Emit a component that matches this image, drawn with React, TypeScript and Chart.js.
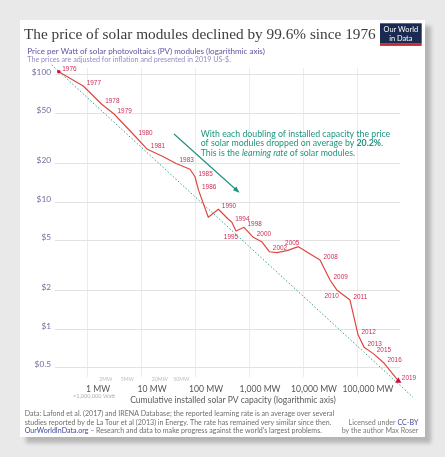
import React, { useEffect, useRef } from "react";
import { Chart, registerables } from "chart.js";

Chart.register(...registerables);

// ---- Data ----
const years = [1976, 1977, 1978, 1979, 1980, 1981, 1982, 1983, 1984, 1985, 1986, 1988, 1990, 1992, 1994, 1995, 1998, 2000, 2001, 2002, 2003, 2004, 2005, 2008, 2009, 2010, 2011, 2012, 2013, 2015, 2016, 2019];
const capacityMW = [0.30, 0.85, 1.87, 3.16, 7.7, 13.1, 25.9, 44.5, 80.8, 99.8, 116, 176, 270, 414, 478, 575, 808, 1200, 1718, 2376, 3300, 5054, 8185, 20650, 31620, 42100, 74130, 104500, 135000, 200000, 316000, 582000];
const pricePerWatt = [106, 81.9, 58.8, 49.3, 33.1, 26.0, 22.7, 20.1, 18.1, 15.8, 12.4, 7.58, 8.77, 7.31, 6.96, 5.91, 6.32, 5.27, 4.87, 4.06, 3.99, 4.14, 4.45, 3.49, 2.43, 2.03, 1.69, 0.90, 0.72, 0.64, 0.54, 0.39];
const labeledYears = [1976, 1977, 1978, 1979, 1980, 1981, 1983, 1985, 1986, 1990, 1994, 1995, 1998, 2000, 2002, 2005, 2008, 2009, 2010, 2011, 2012, 2013, 2015, 2016, 2019];

const trendCapacityMW = [0.222, 1090000];
const trendPrice = [120, 0.29];

const yTickValues = [0.5, 1, 2, 5, 10, 20, 50, 100];
const yTickLabels = ["$0.5", "$1", "$2", "$5", "$10", "$20", "$50", "$100"];
const xTickValues = [1, 10, 100, 1000, 10000, 100000];
const xTickLabels = ["1 MW", "10 MW", "100 MW", "1,000 MW", "10,000 MW", "100,000 MW"];
const xMinorTickValues = [2, 5, 20, 50];
const xMinorTickLabels = ["2MW", "5MW", "20MW", "50MW"];

const TITLE = "The price of solar modules declined by 99.6% since 1976";
const SUBTITLE = "Price per Watt of solar photovoltaics (PV) modules (logarithmic axis)";
const SUBTITLE2 = "The prices are adjusted for inflation and presented in 2019 US-$.";
const X_TITLE = "Cumulative installed solar PV capacity (logarithmic axis)";
const FOOT1 = "Data: Lafond et al. (2017) and IRENA Database; the reported learning rate is an average over several";
const FOOT2 = "studies reported by de La Tour et al (2013) in Energy. The rate has remained very similar since then.";
const FOOT3A = "OurWorldInData.org";
const FOOT3B = " – Research and data to make progress against the world's largest problems.";

const SANS = "Lato, 'Noto Sans', sans-serif";
const RED_LINE = "#e0473f";
const RED_LABEL = "#cc2d57";
const TEAL = "#1f9480";

// label placement tweaks (style, not data)
const BELOW_LEFT = [1995, 2010];
const ABOVE_LEFT = [2005];

const decorPlugin = {
  id: "decor",
  afterDraw(chart: any) {
    const ctx: CanvasRenderingContext2D = chart.ctx;
    const xs = chart.scales.x;
    const ys = chart.scales.y;

    const fitSize = (text: string, family: string, width: number, weight = "normal", style = "normal") => {
      ctx.font = `${style} ${weight} 10px ${family}`;
      return (10 * width) / ctx.measureText(text).width;
    };

    ctx.save();

    // Title
    const ts = fitSize(TITLE, "'Liberation Serif', serif", 352);
    ctx.font = `normal normal ${ts}px 'Liberation Serif', serif`;
    ctx.fillStyle = "#3d3d3d";
    ctx.textAlign = "left";
    ctx.textBaseline = "alphabetic";
    ctx.fillText(TITLE, 24, 39);

    // Subtitles
    ctx.textBaseline = "middle";
    const ss = fitSize(SUBTITLE, SANS, 238);
    ctx.font = `${ss}px ${SANS}`;
    ctx.fillStyle = "#5d52a0";
    ctx.fillText(SUBTITLE, 27.3, 51.7);
    const ss2 = fitSize(SUBTITLE2, SANS, 204);
    ctx.font = `${ss2}px ${SANS}`;
    ctx.fillStyle = "#958cc2";
    ctx.fillText(SUBTITLE2, 27.3, 59.5);

    // Logo
    ctx.fillStyle = "#1a2a50";
    ctx.fillRect(380, 23.3, 41.7, 20.4);
    ctx.fillStyle = "#c52a2f";
    ctx.fillRect(380, 43.7, 41.7, 2.2);
    ctx.fillStyle = "#ffffff";
    ctx.textAlign = "center";
    ctx.font = `7.4px ${SANS}`;
    ctx.fillText("Our World", 400.8, 29.8);
    ctx.fillText("in Data", 400.8, 38.2);

    // Minor x labels
    ctx.font = `5.2px ${SANS}`;
    ctx.fillStyle = "#bdbdbd";
    xMinorTickValues.forEach((v, i) => {
      ctx.fillText(xMinorTickLabels[i], xs.getPixelForValue(v) + 2.5, 379.8);
    });
    // Watt note
    ctx.font = `5.6px ${SANS}`;
    ctx.fillStyle = "#b0b0b0";
    ctx.fillText("≈1,000,000 Watt", xs.getPixelForValue(1) + 7, 396.5);

    // X axis title
    const xt = fitSize(X_TITLE, SANS, 206);
    ctx.font = `${xt}px ${SANS}`;
    ctx.fillStyle = "#5a5a5a";
    ctx.fillText(X_TITLE, 233, 400.5);

    // Footer
    ctx.textAlign = "left";
    const fs = fitSize(FOOT1, SANS, 309.6);
    ctx.font = `${fs}px ${SANS}`;
    ctx.fillStyle = "#6e6e6e";
    ctx.fillText(FOOT1, 24.7, 414.2);
    ctx.fillText(FOOT2, 24.7, 422.4);
    ctx.fillStyle = "#3e48a0";
    ctx.fillText(FOOT3A, 24.7, 430.5);
    const w3 = ctx.measureText(FOOT3A).width;
    ctx.fillStyle = "#6e6e6e";
    ctx.fillText(FOOT3B, 24.7 + w3, 430.5);
    ctx.textAlign = "right";
    ctx.fillStyle = "#3e48a0";
    ctx.fillText("CC-BY", 418.3, 422.6);
    const wcc = ctx.measureText("CC-BY").width;
    ctx.fillStyle = "#7a7a7a";
    ctx.fillText("Licensed under ", 418.3 - wcc, 422.6);
    ctx.fillText("by the author Max Roser", 418.3, 431);

    // Annotation text
    ctx.textAlign = "left";
    const L1 = "With each doubling of installed capacity the price";
    const as = fitSize(L1, SANS, 190);
    ctx.fillStyle = TEAL;
    ctx.font = `${as}px ${SANS}`;
    ctx.fillText(L1, 200.7, 134);
    let x = 200.7;
    const seg = (t: string, font: string, y: number) => {
      ctx.font = font;
      ctx.fillText(t, x, y);
      x += ctx.measureText(t).width;
    };
    seg("of solar modules dropped on average by ", `${as}px ${SANS}`, 143.6);
    seg("20.2%", `bold ${as}px ${SANS}`, 143.6);
    seg(".", `${as}px ${SANS}`, 143.6);
    x = 200.7;
    seg("This is the ", `${as}px ${SANS}`, 153.3);
    seg("learning rate", `italic ${as}px ${SANS}`, 153.3);
    seg(" of solar modules.", `${as}px ${SANS}`, 153.3);

    // Arrow (anchored to the scales)
    const ax1 = xs.getPixelForValue(40.8), ay1 = ys.getPixelForValue(34.3);
    const ax2 = xs.getPixelForValue(634), ay2 = ys.getPixelForValue(12.05);
    ctx.strokeStyle = TEAL;
    ctx.lineWidth = 1.2;
    ctx.beginPath();
    ctx.moveTo(ax1, ay1);
    ctx.lineTo(ax2, ay2);
    ctx.stroke();
    const ang = Math.atan2(ay2 - ay1, ax2 - ax1);
    ctx.fillStyle = TEAL;
    ctx.beginPath();
    ctx.moveTo(ax2 + 1.5 * Math.cos(ang), ay2 + 1.5 * Math.sin(ang));
    ctx.lineTo(ax2 - 5 * Math.cos(ang) + 2.6 * Math.sin(ang), ay2 - 5 * Math.sin(ang) - 2.6 * Math.cos(ang));
    ctx.lineTo(ax2 - 5 * Math.cos(ang) - 2.6 * Math.sin(ang), ay2 - 5 * Math.sin(ang) + 2.6 * Math.cos(ang));
    ctx.closePath();
    ctx.fill();

    // Year labels
    const meta = chart.getDatasetMeta(0);
    ctx.font = `6.4px 'Liberation Sans', Arial, sans-serif`;
    ctx.fillStyle = RED_LABEL;
    ctx.textBaseline = "middle";
    years.forEach((yr, i) => {
      if (!labeledYears.includes(yr)) return;
      const p = meta.data[i];
      if (BELOW_LEFT.includes(yr)) {
        ctx.textAlign = "right";
        ctx.fillText(String(yr), p.x + 2, p.y + 6.5);
      } else if (ABOVE_LEFT.includes(yr)) {
        ctx.textAlign = "right";
        ctx.fillText(String(yr), p.x + 1, p.y - 3);
      } else {
        ctx.textAlign = "left";
        ctx.fillText(String(yr), p.x + 3.5, p.y - 3);
      }
    });

    ctx.restore();
  },
};

export default function App() {
  const ref = useRef<HTMLCanvasElement | null>(null);

  useEffect(() => {
    if (!ref.current) return;
    const lastIdx = years.length - 1;
    const chart = new Chart(ref.current, {
      type: "line",
      data: {
        datasets: [
          {
            label: "Solar PV module price",
            data: capacityMW.map((c, i) => ({ x: c, y: pricePerWatt[i] })),
            borderColor: RED_LINE,
            borderWidth: 1.2,
            tension: 0,
            borderJoinStyle: "round",
            clip: false as any,
            pointRadius: (c: any) => (c.dataIndex === 0 ? 1.8 : c.dataIndex === lastIdx ? 3.6 : 0),
            pointStyle: (c: any) => (c.dataIndex === lastIdx ? "triangle" : "circle"),
            pointBackgroundColor: "#c4123e",
            pointBorderColor: "#c4123e",
            pointBorderWidth: 0,
          },
          {
            label: "Learning rate trend",
            data: trendCapacityMW.map((c, i) => ({ x: c, y: trendPrice[i] })),
            borderColor: "#3a9e8a",
            borderWidth: 1,
            borderDash: [1.5, 2],
            pointRadius: 0,
            clip: false as any,
          },
        ],
      },
      options: {
        animation: false,
        responsive: false,
        events: [],
        layout: { padding: { left: 0, right: 45, top: 68, bottom: 0 } },
        plugins: { legend: { display: false }, tooltip: { enabled: false } },
        scales: {
          x: {
            type: "logarithmic",
            min: 0.255,
            max: 625000,
            afterBuildTicks: (s: any) => {
              s.ticks = xTickValues.map((v) => ({ value: v }));
            },
            afterFit: (s: any) => {
              s.height = 80;
            },
            grid: { color: "#ececec", lineWidth: 1, drawTicks: false },
            border: { display: false },
            ticks: {
              autoSkip: false,
              maxRotation: 0,
              padding: 7,
              labelOffset: 11,
              color: "#555555",
              font: { family: SANS, size: 8.6 },
              callback: (_v: any, i: number) => xTickLabels[i],
            },
          },
          y: {
            type: "logarithmic",
            min: 0.419,
            max: 113.5,
            afterBuildTicks: (s: any) => {
              s.ticks = yTickValues.map((v) => ({ value: v }));
            },
            afterFit: (s: any) => {
              s.width = 55;
            },
            grid: { color: "#e2e2e2", lineWidth: 1, drawTicks: false },
            border: { display: false },
            ticks: {
              autoSkip: false,
              padding: 4,
              labelOffset: -3,
              color: "#716b9f",
              font: { family: SANS, size: 8.3 },
              callback: (_v: any, i: number) => yTickLabels[i],
            },
          },
        },
      } as any,
      plugins: [decorPlugin],
    });
    return () => chart.destroy();
  }, []);

  return (
    <div style={{ position: "fixed", left: 0, top: 0, width: 445, height: 457, background: "#e9e9ea", overflow: "hidden" }}>
      <div
        style={{
          position: "absolute",
          left: 20,
          top: 20,
          width: 405,
          height: 417,
          background: "#ffffff",
          boxShadow: "6px 6px 4px rgba(0,0,0,0.22)",
        }}
      />
      <canvas ref={ref} width={445} height={457} style={{ position: "absolute", left: 0, top: 0, width: 445, height: 457 }} />
    </div>
  );
}
